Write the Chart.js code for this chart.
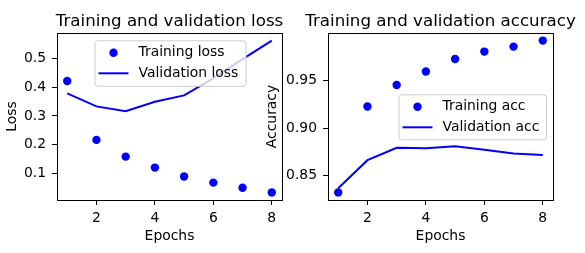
<!DOCTYPE html>
<html>
<head>
<meta charset="utf-8">
<script src="https://cdn.jsdelivr.net/npm/chart.js@4.4.0/dist/chart.umd.min.js"></script>
<style>
  html, body { margin: 0; padding: 0; background: #fff; }
  #wrap { position: relative; width: 585px; height: 253px; overflow: hidden; }
  canvas { position: absolute; top: 0; }
  #lossChart { left: 0; }
  #accChart { left: 260px; }
</style>
</head>
<body>
<div id="wrap">
  <canvas id="lossChart" width="292" height="253"></canvas>
  <canvas id="accChart" width="325" height="253"></canvas>
</div>
<script>
const epochs = [1, 2, 3, 4, 5, 6, 7, 8];
const trainLoss = [0.421, 0.217, 0.159, 0.121, 0.090, 0.069, 0.051, 0.035];
const valLoss = [0.378, 0.333, 0.316, 0.349, 0.371, 0.430, 0.497, 0.561];
const trainAcc = [0.8327, 0.9225, 0.9451, 0.9591, 0.9723, 0.9800, 0.9852, 0.9915];
const valAcc = [0.8371, 0.8664, 0.8793, 0.8789, 0.8810, 0.8772, 0.8734, 0.8719];

const epochTicks = [2, 4, 6, 8];
const lossTicks = [0.1, 0.2, 0.3, 0.4, 0.5];
const accTicks = [0.85, 0.90, 0.95];

Chart.defaults.font.family = 'DejaVu Sans';
Chart.defaults.color = '#000';

const FS = 13.9;

// title over the axes, spines, and a matplotlib style legend inside the axes
const mplBox = {
    id: 'mplBox',
    afterDraw(chart, args, opts) {
        const ctx = chart.ctx;
        const a = chart.chartArea;
        ctx.save();
        ctx.font = '16.7px "DejaVu Sans"';
        ctx.fillStyle = '#000';
        ctx.textAlign = 'center';
        ctx.textBaseline = 'alphabetic';
        ctx.fillText(opts.title, (a.left + a.right) / 2, 26);

        ctx.strokeStyle = '#000';
        ctx.lineWidth = 1;
        ctx.strokeRect(a.left + 0.5, a.top + 0.5, a.right - a.left, a.bottom - a.top);

        const x = a.left + opts.left, y = a.top + opts.top;
        ctx.beginPath();
        ctx.roundRect(x + 0.5, y + 0.5, opts.width, opts.height, 3);
        ctx.fillStyle = 'rgba(255,255,255,0.8)';
        ctx.fill();
        ctx.strokeStyle = '#cccccc';
        ctx.stroke();

        ctx.font = FS + 'px "DejaVu Sans"';
        ctx.textAlign = 'left';
        ctx.textBaseline = 'middle';
        chart.data.datasets.forEach((ds, i) => {
            const ry = y + 12.5 + i * 20.5;
            if (ds.showLine === false) {
                ctx.beginPath();
                ctx.arc(x + 19, ry, ds.pointRadius, 0, Math.PI * 2);
                ctx.fillStyle = ds.backgroundColor;
                ctx.fill();
            } else {
                ctx.beginPath();
                ctx.moveTo(x + 4, ry);
                ctx.lineTo(x + 34, ry);
                ctx.strokeStyle = ds.borderColor;
                ctx.lineWidth = ds.borderWidth;
                ctx.stroke();
            }
            ctx.fillStyle = '#000';
            ctx.fillText(ds.label, x + 44, ry);
        });
        ctx.restore();
    }
};

function range(arrs) {
    const all = [].concat(...arrs);
    const lo = Math.min(...all), hi = Math.max(...all);
    const m = (hi - lo) * 0.05;
    return [lo - m, hi + m];
}

function makeChart(id, title, yTitle, train, val, trainLabel, valLabel, yTicks, digits, yWidth, padRight, legend) {
    const [ymin, ymax] = range([train, val]);
    const tickGrid = { drawOnChartArea: false, drawTicks: true, tickLength: 5, color: '#000', lineWidth: 1 };
    return new Chart(document.getElementById(id), {
        type: 'line',
        data: {
            datasets: [{
                label: trainLabel,
                data: epochs.map((e, i) => ({ x: e, y: train[i] })),
                showLine: false,
                pointRadius: 4.2,
                pointBorderWidth: 0,
                backgroundColor: '#0000ff',
                borderColor: '#0000ff'
            }, {
                label: valLabel,
                data: epochs.map((e, i) => ({ x: e, y: val[i] })),
                borderColor: '#0000ff',
                backgroundColor: '#0000ff',
                borderWidth: 2,
                pointRadius: 0,
                tension: 0
            }]
        },
        options: {
            responsive: false,
            animation: false,
            devicePixelRatio: 1,
            layout: { padding: { left: 0, right: padRight, top: 33, bottom: 0 } },
            plugins: {
                legend: { display: false },
                tooltip: { enabled: false },
                title: { display: false },
                mplBox: Object.assign({ title: title }, legend)
            },
            scales: {
                x: {
                    type: 'linear',
                    min: 0.65,
                    max: 8.35,
                    afterBuildTicks: s => { s.ticks = epochTicks.map(v => ({ value: v })); },
                    afterFit: s => { s.height = 53; },
                    ticks: { font: { size: FS }, padding: 5, autoSkip: false, maxRotation: 0, color: '#000' },
                    grid: tickGrid,
                    border: { display: false },
                    title: { display: true, text: 'Epochs', font: { size: FS }, padding: { top: 0, bottom: 8 }, color: '#000' }
                },
                y: {
                    type: 'linear',
                    min: ymin,
                    max: ymax,
                    afterBuildTicks: s => { s.ticks = yTicks.map(v => ({ value: v })); },
                    afterFit: s => { s.width = yWidth; },
                    ticks: { font: { size: FS }, padding: 6, autoSkip: false, color: '#000',
                        callback: v => v.toFixed(digits) },
                    grid: tickGrid,
                    border: { display: false },
                    title: { display: true, text: yTitle, font: { size: FS }, padding: { top: 4, bottom: 0 }, color: '#000' }
                }
            }
        },
        plugins: [mplBox]
    });
}

makeChart('lossChart', 'Training and validation loss', 'Loss', trainLoss, valLoss,
    'Training loss', 'Validation loss', lossTicks, 1, 57, 10,
    { left: 37.5, top: 7.3, width: 151, height: 45.5 });

makeChart('accChart', 'Training and validation accuracy', 'Accuracy', trainAcc, valAcc,
    'Training acc', 'Validation acc', accTicks, 2, 68, 32,
    { left: 70.5, top: 61.3, width: 147.5, height: 45 });
</script>
</body>
</html>
